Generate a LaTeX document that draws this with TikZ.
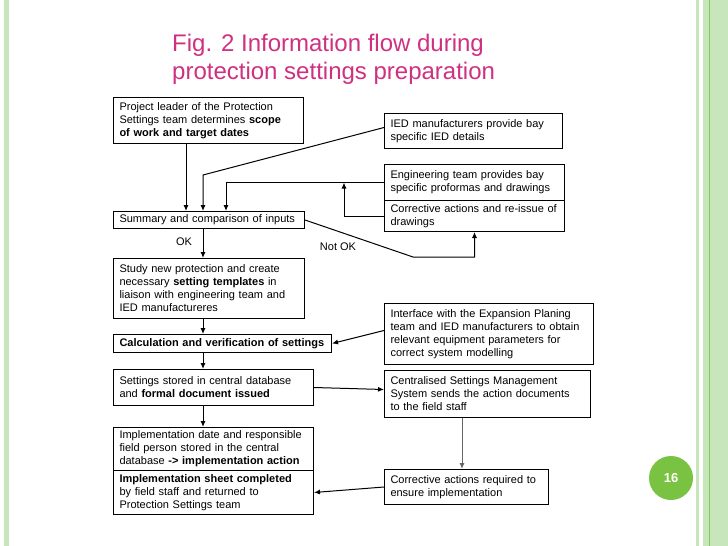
\documentclass[tikz,border=0pt]{standalone}
\usepackage{fontspec}
\setmainfont{Liberation Sans}
\usetikzlibrary{arrows.meta,calc}
\definecolor{titlepink}{RGB}{208,48,128}
\definecolor{bandgreen}{RGB}{200,230,188}
\definecolor{linegreen}{RGB}{130,200,90}
\definecolor{circgreen}{RGB}{122,194,66}
\begin{document}
\begin{tikzpicture}[x=1pt,y=-1pt,
  box/.style={draw, line width=1pt, anchor=north west, inner xsep=6pt, inner ysep=1pt, align=left, font=\fontsize{11}{13}\selectfont},
  arr/.style={-{Latex[length=6pt,width=5pt]}, line width=1pt},
  lbl/.style={font=\fontsize{11}{13}\selectfont, inner sep=0pt},
  ttl/.style={anchor=base west, text=titlepink, font=\fontsize{24}{28}\selectfont, inner sep=0pt}]
\path[use as bounding box] (0,0) rectangle (728,546);
\fill[white] (0,0) rectangle (728,546);
\fill[bandgreen] (4,0) rectangle (9,546);
\fill[bandgreen] (696,0) rectangle (699,546);
\fill[bandgreen] (703,0) rectangle (728,546);
\draw[linegreen, line width=1pt] (709.5,0) -- (709.5,546);

\node[ttl] (t1) at (172,51) {Fig. 2 Information flow during};
\node[ttl] (t2) at (172,79) {protection settings preparation};

\node[box, text width=178pt, minimum height=46pt] (lead) at (113,97)
  {Project leader of the Protection\\Settings team determines \textbf{scope}\\\textbf{of work and target dates}};
\node[box, text width=166pt, minimum height=35pt] (ied) at (384,113)
  {IED manufacturers provide bay\\specific IED details};
\node[box, text width=168pt, minimum height=36pt] (eng) at (384,164)
  {Engineering team provides bay\\specific proformas and drawings};
\node[box, text width=168pt, minimum height=31pt] (corr) at (384,200)
  {Corrective actions and re-issue of\\drawings};
\node[box, text width=179pt, minimum height=17pt] (sum) at (113,211)
  {Summary and comparison of inputs};
\node[box, text width=179pt, minimum height=60pt] (study) at (113,258)
  {Study new protection and create\\necessary \textbf{setting templates} in\\liaison with engineering team and\\IED manufactureres};
\node[box, text width=197pt, minimum height=61pt] (intf) at (384,303)
  {Interface with the Expansion Planing\\team and IED manufacturers to obtain\\relevant equipment parameters for\\correct system modelling};
\node[box, text width=206pt, minimum height=18pt] (calc) at (113,334)
  {\textbf{Calculation and verification of settings}};
\node[box, text width=188pt, minimum height=36pt] (stor) at (113,369)
  {Settings stored in central database\\and \textbf{formal document issued}};
\node[box, text width=194pt, minimum height=47pt] (csms) at (384,370)
  {Centralised Settings Management\\System sends the action documents\\to the field staff};
\node[box, text width=188pt, minimum height=43pt] (impl) at (113,427)
  {Implementation date and responsible\\field person stored in the central\\database \textbf{-> implementation action}};
\node[box, text width=188pt, minimum height=44pt] (sheet) at (113,470)
  {\textbf{Implementation sheet completed}\\by field staff and returned to\\Protection Settings team};
\node[box, text width=152pt, minimum height=35pt] (cimp) at (384,469)
  {Corrective actions required to\\ensure implementation};

\node[lbl] (ok) at (184,242) {OK};
\node[lbl] (nok) at (338,247) {Not OK};

\node[circle, fill=circgreen, minimum size=44pt, inner sep=0pt, text=white, font=\bfseries\fontsize{13}{13}\selectfont] (pg) at (671,478) {16};

% connectors
\draw[arr] ([xshift=73pt]lead.south west) -- ([xshift=73pt]sum.north west);
\coordinate (k1) at (203,175);
\draw[arr] ([yshift=3.5pt]ied.west) -- (k1) -- ([xshift=90pt]sum.north west);
\draw[arr] (eng.west) -| ([xshift=113pt]sum.north west);
\draw[arr] (corr.west) -| ([xshift=-40pt]eng.west);
\coordinate (nk) at (413,257);
\draw[arr] (sum.east) -- (nk) -| (corr.south);
\draw[arr] ([xshift=90pt]sum.south west) -- ([xshift=90pt]study.north west);
\draw[arr] ([xshift=90pt]study.south west) -- ([xshift=90pt]calc.north west);
\draw[arr] ([yshift=3.5pt]intf.west) -- (calc.east);
\draw[arr] ([xshift=90pt]calc.south west) -- ([xshift=90pt]stor.north west);
\draw[arr] (stor.east) -- ([yshift=4.5pt]csms.west);
\draw[arr] ([xshift=90pt]stor.south west) -- ([xshift=90pt]impl.north west);
\draw[arr, draw=black!60, fill=black!60] ([xshift=78pt]csms.south west) -- ([xshift=78pt]cimp.north west);
\draw[arr] (cimp.west) -- (sheet.east);
\end{tikzpicture}
\end{document}
